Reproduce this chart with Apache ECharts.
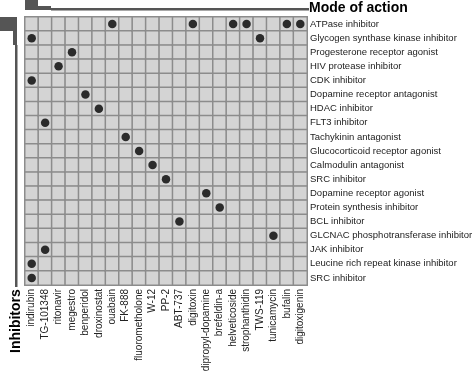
<!DOCTYPE html>
<html>
<head>
<meta charset="utf-8">
<script src="https://cdn.jsdelivr.net/npm/echarts@6/dist/echarts.min.js"></script>
<style>
  html, body { margin: 0; padding: 0; background: #fff; }
  #chart { width: 474px; height: 376px; }
</style>
</head>
<body>
<div id="chart"></div>
<script>
const inhibitors = ['indirubin', 'TG-101348', 'ritonavir', 'megestro', 'benperidol', 'droxinostat',
  'ouabain', 'FK-888', 'fluorometholone', 'W-12', 'PP-2', 'ABT-737', 'digitoxin',
  'dipropyl-dopamine', 'brefeldin-a', 'helveticoside', 'strophanthidin', 'TWS-119',
  'tunicamycin', 'bufalin', 'digitoxigenin']

const modes = ['ATPase inhibitor', 'Glycogen synthase kinase inhibitor', 'Progesterone receptor agonist',
  'HIV protease inhibitor', 'CDK inhibitor', 'Dopamine receptor antagonist', 'HDAC inhibitor',
  'FLT3 inhibitor', 'Tachykinin antagonist', 'Glucocorticoid receptor agonist', 'Calmodulin antagonist',
  'SRC inhibitor', 'Dopamine receptor agonist', 'Protein synthesis inhibitor', 'BCL inhibitor',
  'GLCNAC phosphotransferase inhibitor', 'JAK inhibitor', 'Leucine rich repeat kinase inhibitor',
  'SRC inhibitor ']

// [inhibitor, mode of action]
const hits = [
  ['ouabain', 'ATPase inhibitor'], ['digitoxin', 'ATPase inhibitor'], ['helveticoside', 'ATPase inhibitor'],
  ['strophanthidin', 'ATPase inhibitor'], ['bufalin', 'ATPase inhibitor'], ['digitoxigenin', 'ATPase inhibitor'],
  ['indirubin', 'Glycogen synthase kinase inhibitor'], ['TWS-119', 'Glycogen synthase kinase inhibitor'],
  ['megestro', 'Progesterone receptor agonist'],
  ['ritonavir', 'HIV protease inhibitor'],
  ['indirubin', 'CDK inhibitor'],
  ['benperidol', 'Dopamine receptor antagonist'],
  ['droxinostat', 'HDAC inhibitor'],
  ['TG-101348', 'FLT3 inhibitor'],
  ['FK-888', 'Tachykinin antagonist'],
  ['fluorometholone', 'Glucocorticoid receptor agonist'],
  ['W-12', 'Calmodulin antagonist'],
  ['PP-2', 'SRC inhibitor'],
  ['dipropyl-dopamine', 'Dopamine receptor agonist'],
  ['brefeldin-a', 'Protein synthesis inhibitor'],
  ['ABT-737', 'BCL inhibitor'],
  ['tunicamycin', 'GLCNAC phosphotransferase inhibitor'],
  ['TG-101348', 'JAK inhibitor'],
  ['indirubin', 'Leucine rich repeat kinase inhibitor'],
  ['indirubin', 'SRC inhibitor ']
]

const cells = []
inhibitors.forEach((inh, i) => {
  modes.forEach((m, j) => {
    cells.push([i, j, 0])
  })
})

const myChart = echarts.init(document.getElementById('chart'))
const font = 'Liberation Sans, Arial, sans-serif'

const option = {
  animation: false,
  textStyle: { fontFamily: font },
  grid: { left: 25, top: 17, width: 282, height: 268, outerBoundsMode: 'none', containLabel: false },
  xAxis: {
    type: 'category',
    data: inhibitors,
    position: 'bottom',
    axisLine: { show: false },
    axisTick: { show: false },
    splitLine: { show: false },
    axisLabel: { rotate: 90, fontSize: 10, color: '#222', margin: 4, interval: 0 }
  },
  yAxis: {
    type: 'category',
    data: modes,
    inverse: true,
    position: 'right',
    axisLine: { show: false },
    axisTick: { show: false },
    splitLine: { show: false },
    axisLabel: { fontSize: 9.5, color: '#222', margin: 3, interval: 0 }
  },
  series: [
    {
      type: 'heatmap',
      data: cells,
      itemStyle: { color: '#d4d4d4', borderColor: '#8c8c8c', borderWidth: 1.5 },
      emphasis: { disabled: true }
    },
    {
      type: 'scatter',
      data: hits,
      symbolSize: 8.5,
      itemStyle: { color: '#000' },
      z: 5
    }
  ],
  graphic: [
    // dendrogram decoration, top
    { type: 'rect', shape: { x: 25, y: 0, width: 13, height: 10 }, style: { fill: '#555' } },
    { type: 'rect', shape: { x: 38, y: 6, width: 13, height: 4 }, style: { fill: '#555' } },
    { type: 'rect', shape: { x: 51, y: 8, width: 258, height: 2.5 }, style: { fill: '#555' } },
    // dendrogram decoration, left
    { type: 'rect', shape: { x: 0, y: 17, width: 17, height: 14 }, style: { fill: '#555' } },
    { type: 'rect', shape: { x: 13, y: 31, width: 4, height: 14 }, style: { fill: '#555' } },
    { type: 'rect', shape: { x: 15, y: 45, width: 2.5, height: 242 }, style: { fill: '#555' } },
    {
      type: 'text', left: 309, top: 1,
      style: { text: 'Mode of action', font: 'bold 14px ' + font, fill: '#000' }
    },
    {
      type: 'text', x: 9, y: 353, rotation: Math.PI / 2,
      style: { text: 'Inhibitors', font: 'bold 14px ' + font, fill: '#000' }
    }
  ]
}

myChart.setOption(option)
</script>
</body>
</html>
